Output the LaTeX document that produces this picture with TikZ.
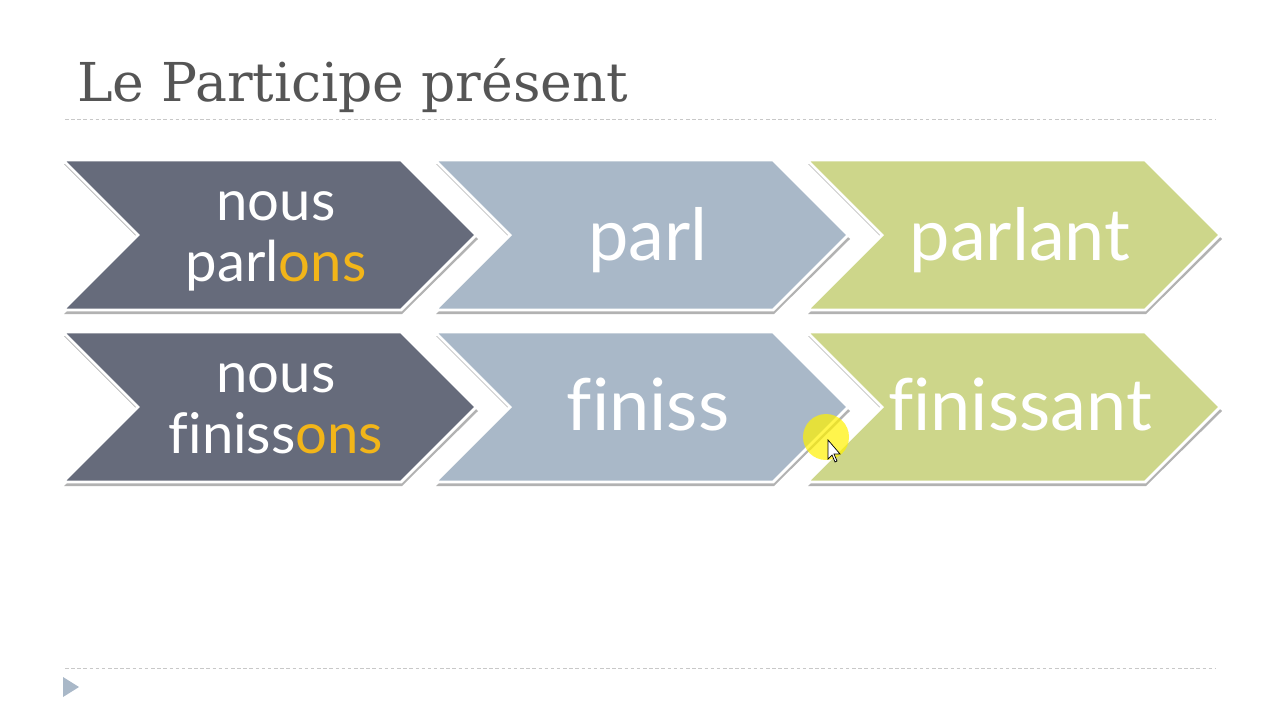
\documentclass[tikz,border=0pt]{standalone}
\usepackage{fontspec}
\setmainfont{Lato}[Ligatures = CommonOff]
\newfontfamily\titelfont{DejaVu Serif}
\definecolor{schiefer}{HTML}{666B7B}
\definecolor{taube}{HTML}{A9B8C8}
\definecolor{lind}{HTML}{CDD68A}
\definecolor{endung}{HTML}{F2B519}
\definecolor{titelgrau}{HTML}{555555}
\definecolor{linie}{HTML}{C8C8C8}
\tikzset{
	chev/.pic = {
		\fill[black, opacity = 0.3] (1,4) -- (339,4) -- (415,79) -- (339,154) -- (1,154) -- (76,79) -- cycle;
		\draw[draw = white, line width = 1.6pt, fill = #1] (0,0) -- (338,0) -- (413,75) -- (338,150) -- (0,150) -- (75,75) -- cycle;
	},
	klein/.style = {anchor = base, text = white, font = \fontsize{32}{38}\selectfont},
	gross/.style = {anchor = base, text = white, font = \fontsize{41}{48}\selectfont}
}
\begin{document}
\begin{tikzpicture}[x = 0.02cm, y = -0.02cm]
	\useasboundingbox[fill = white] (0,0) rectangle (1280,720);
	\node[anchor = base west, text = titelgrau, font = \titelfont\fontsize{30.5}{35}\selectfont] (titel) at (71,101) {Le Participe présent};
	\draw[linie, dash pattern = on 2pt off 1.5pt] (65,119) -- (1215,119);
	\draw[linie, dash pattern = on 2pt off 1.5pt] (65,668) -- (1215,668);
	\fill[taube] (63,677) -- (79,687) -- (63,697) -- cycle;
	% Pfeile
	\foreach \x/\farbe in {63/schiefer, 435/taube, 807/lind}
		\foreach \y in {160,332}
			\pic at (\x,\y) {chev = \farbe};
	% erste Zeile
	\node[klein] (nous1) at (276,220) {nous};
	\node[klein] (parlons) at (276,281) {parl\textcolor{endung}{ons}};
	\node[gross] (parl) at (648,260) {parl};
	\node[gross] (parlant) at (1020,260) {parlant};
	% zweite Zeile
	\node[klein] (nous2) at (276,392) {nous};
	\node[klein] (finissons) at (276,453) {finiss\textcolor{endung}{ons}};
	\node[gross] (finiss) at (648,430) {finiss};
	\node[gross] (finissant) at (1020,430) {finissant};
	% Mauszeiger
	\fill[yellow, opacity = 0.7] (826,437) circle (23);
	\draw[fill = white, line width = 0.4pt] (828,440) -- (828,459) -- (832,455) -- (835,462) -- (837,461) -- (834,454) -- (840,454) -- cycle;
\end{tikzpicture}
\end{document}
